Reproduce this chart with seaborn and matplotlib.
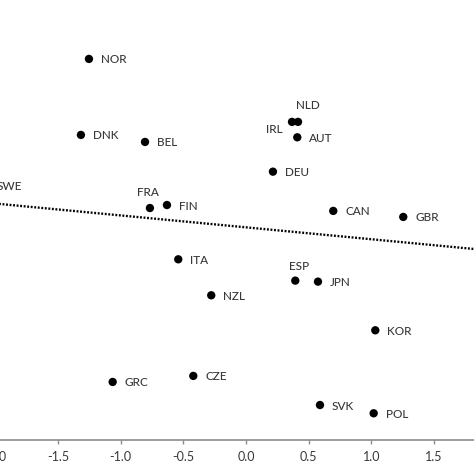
import matplotlib
matplotlib.use("Agg")
import matplotlib.pyplot as plt
import seaborn as sns
import pandas as pd

# country scores
countries = ["NOR", "DNK", "BEL", "FRA", "FIN", "IRL", "NLD", "AUT", "DEU", "CAN", "GBR",
             "ITA", "ESP", "JPN", "NZL", "KOR", "GRC", "CZE", "SVK", "POL", "SWE"]
x_vals = [-1.252, -1.316, -0.805, -0.766, -0.630, 0.367, 0.415, 0.409, 0.215, 0.696, 1.254,
          -0.540, 0.393, 0.574, -0.277, 1.031, -1.063, -0.420, 0.590, 1.018, -2.081]
y_vals = [1.364, 0.758, 0.702, 0.175, 0.199, 0.862, 0.862, 0.739, 0.465, 0.152, 0.104,
          -0.234, -0.404, -0.412, -0.521, -0.800, -1.212, -1.164, -1.396, -1.462, 0.351]
x_ticks = [-2.0, -1.5, -1.0, -0.5, 0.0, 0.5, 1.0, 1.5]

# dotted trend line
trend_intercept = 0.021
trend_slope = -0.095

df = pd.DataFrame({"country": countries, "x": x_vals, "y": y_vals})

# label placement (pixels) for the few that are not to the right
label_pos = {
    "FRA": (-2, 16, "center"),
    "NLD": (10, 16, "center"),
    "IRL": (-9, -8, "right"),
    "ESP": (4, 14, "center"),
}

sns.set_style("white")
plt.rcParams["font.family"] = ["Lato", "DejaVu Sans"]

fig = plt.figure(figsize=(4.74, 4.74), dpi=100)
ax = fig.add_axes([-10 / 474, 34 / 474, 484 / 474, 440 / 474])

sns.scatterplot(data=df, x="x", y="y", color="black", s=36, edgecolor="none", ax=ax, zorder=3)
ax.axline((0, trend_intercept), slope=trend_slope, color="black", lw=1.7,
          linestyle=(0, (0.8, 0.7)), zorder=2)

for name, xv, yv in zip(countries, x_vals, y_vals):
    dx, dy, ha = label_pos.get(name, (12, -1, "left"))
    ax.annotate(name, (xv, yv), xytext=(dx, dy), textcoords="offset pixels",
                ha=ha, va="center", fontsize=8.5, fontweight="medium",
                color="#383838", annotation_clip=False)

ax.set_xlim(-2.041, 1.818)
ax.set_ylim(-1.675, 1.834)
ax.set_xticks(x_ticks)
ax.set_xticklabels([f"{t:.1f}" for t in x_ticks])
ax.set_yticks([])
ax.set_xlabel("")
ax.set_ylabel("")
for side in ["top", "left", "right"]:
    ax.spines[side].set_visible(False)
ax.spines["bottom"].set_color("#8c8c8c")
ax.spines["bottom"].set_linewidth(1.2)
ax.tick_params(axis="x", direction="out", length=3, width=1, color="#8c8c8c",
               labelsize=9, labelcolor="#383838", pad=5, bottom=True)
ax.patch.set_alpha(0)

fig.savefig("out.png", dpi=100)
